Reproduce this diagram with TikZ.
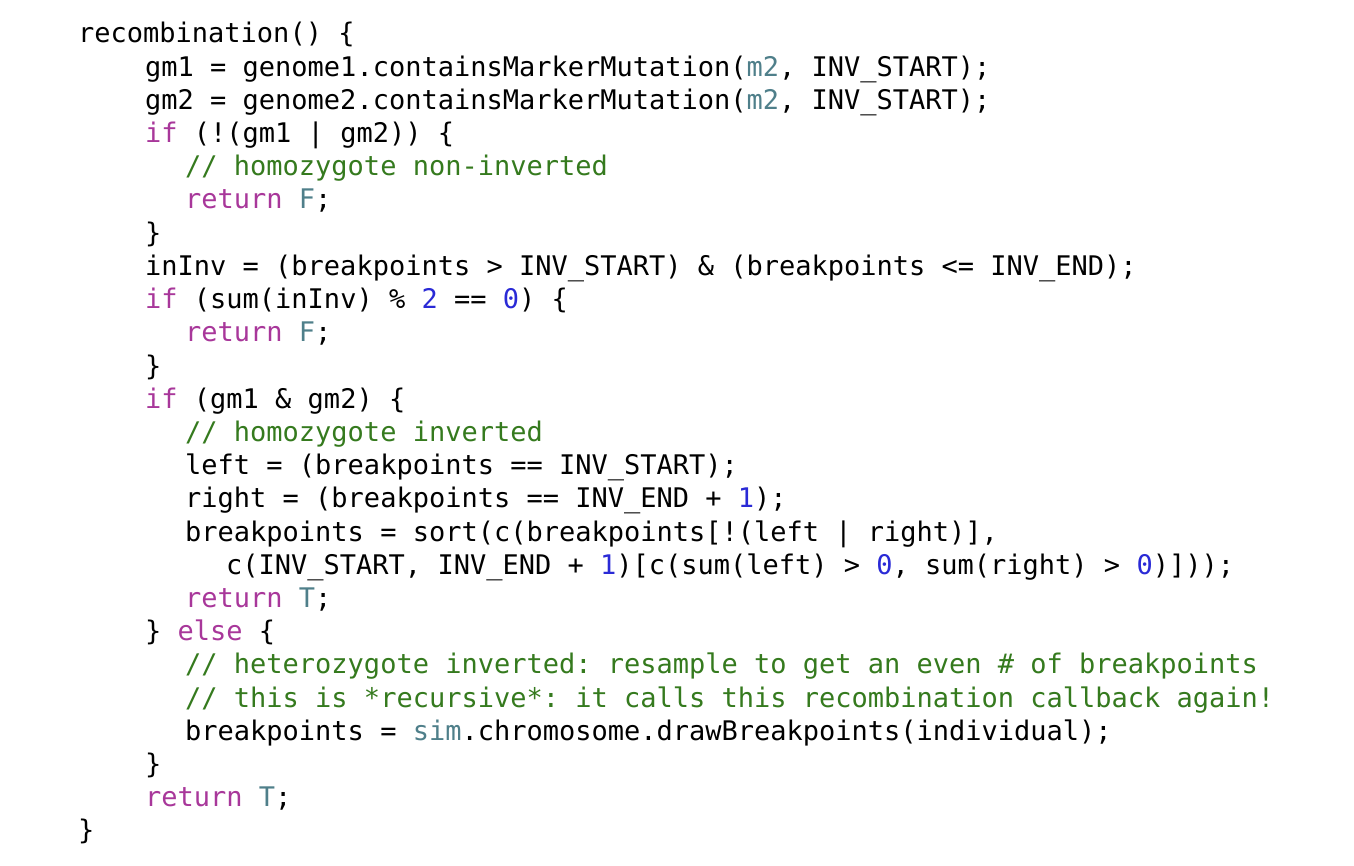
\documentclass[tikz,border=0pt]{standalone}
\usepackage{fontspec}
\setmonofont{DejaVu Sans Mono}
\definecolor{kwc}{HTML}{A8379A}
\definecolor{cmc}{HTML}{357A1E}
\definecolor{nmc}{HTML}{2A2AD6}
\definecolor{idc}{HTML}{4F7F8A}
\newcommand{\kw}[1]{\textcolor{kwc}{#1}}
\newcommand{\cm}[1]{\textcolor{cmc}{#1}}
\newcommand{\nm}[1]{\textcolor{nmc}{#1}}
\newcommand{\ident}[1]{\textcolor{idc}{#1}}
\begin{document}
\begin{tikzpicture}[x=1pt,y=1pt,
  code/.style={anchor=base west,inner sep=0pt,font=\fontsize{27}{30}\selectfont\ttfamily}]
\useasboundingbox (0,0) rectangle (1354,-866);
\def\ly#1{-(43+33.2*(#1-1))}
\node[code] (l1) at (78,{\ly{1}}) {recombination() \{};
\node[code] (l2) at (145,{\ly{2}}) {gm1 = genome1.containsMarkerMutation(\ident{m2}, INV\_START);};
\node[code] (l3) at (145,{\ly{3}}) {gm2 = genome2.containsMarkerMutation(\ident{m2}, INV\_START);};
\node[code] (l4) at (145,{\ly{4}}) {\kw{if} (!(gm1 | gm2)) \{};
\node[code] (l5) at (185,{\ly{5}}) {\cm{// homozygote non-inverted}};
\node[code] (l6) at (185,{\ly{6}}) {\kw{return} \ident{F};};
\node[code] (l7) at (145,{\ly{7}}) {\}};
\node[code] (l8) at (145,{\ly{8}}) {inInv = (breakpoints > INV\_START) \& (breakpoints <= INV\_END);};
\node[code] (l9) at (145,{\ly{9}}) {\kw{if} (sum(inInv) \% \nm{2} == \nm{0}) \{};
\node[code] (l10) at (185,{\ly{10}}) {\kw{return} \ident{F};};
\node[code] (l11) at (145,{\ly{11}}) {\}};
\node[code] (l12) at (145,{\ly{12}}) {\kw{if} (gm1 \& gm2) \{};
\node[code] (l13) at (185,{\ly{13}}) {\cm{// homozygote inverted}};
\node[code] (l14) at (185,{\ly{14}}) {left = (breakpoints == INV\_START);};
\node[code] (l15) at (185,{\ly{15}}) {right = (breakpoints == INV\_END + \nm{1});};
\node[code] (l16) at (185,{\ly{16}}) {breakpoints = sort(c(breakpoints[!(left | right)],};
\node[code] (l17) at (226,{\ly{17}}) {c(INV\_START, INV\_END + \nm{1})[c(sum(left) > \nm{0}, sum(right) > \nm{0})]));};
\node[code] (l18) at (185,{\ly{18}}) {\kw{return} \ident{T};};
\node[code] (l19) at (145,{\ly{19}}) {\} \kw{else} \{};
\node[code] (l20) at (185,{\ly{20}}) {\cm{// heterozygote inverted: resample to get an even \# of breakpoints}};
\node[code] (l21) at (185,{\ly{21}}) {\cm{// this is *recursive*: it calls this recombination callback again!}};
\node[code] (l22) at (185,{\ly{22}}) {breakpoints = \ident{sim}.chromosome.drawBreakpoints(individual);};
\node[code] (l23) at (145,{\ly{23}}) {\}};
\node[code] (l24) at (145,{\ly{24}}) {\kw{return} \ident{T};};
\node[code] (l25) at (78,{\ly{25}}) {\}};
\end{tikzpicture}
\end{document}
